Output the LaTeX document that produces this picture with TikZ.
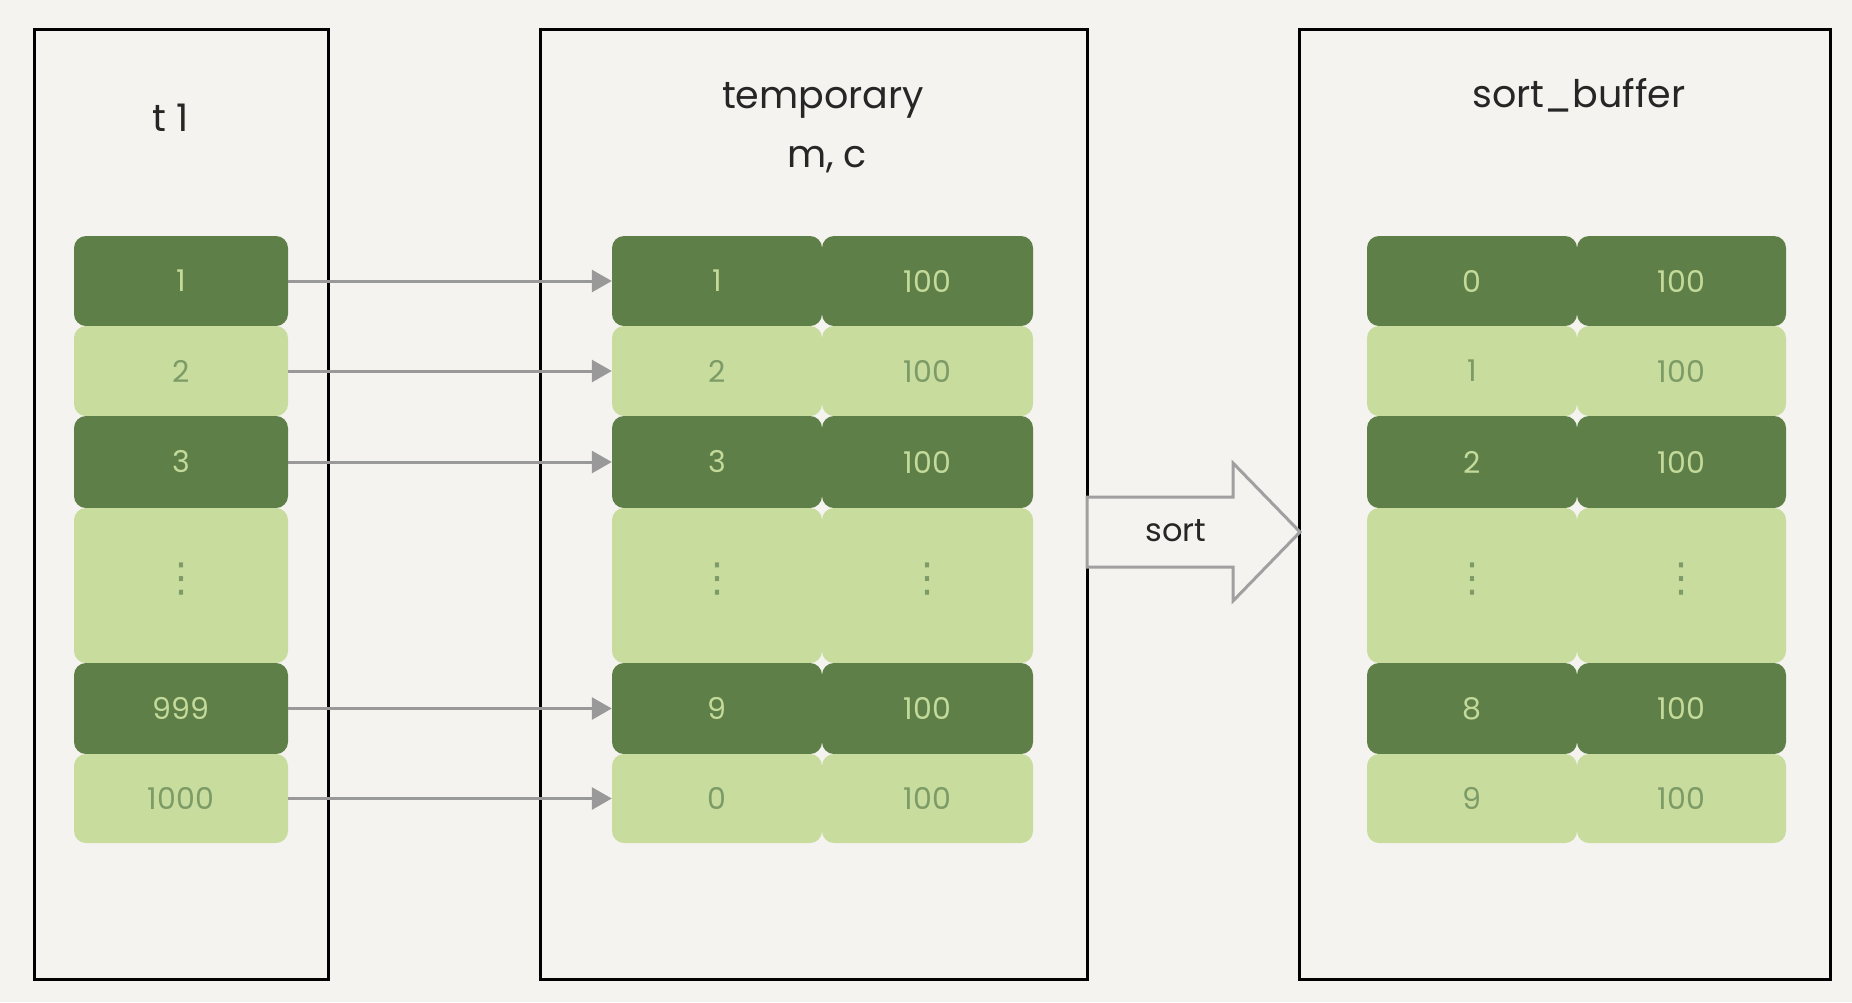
\documentclass[tikz,border=0pt]{standalone}
\usepackage{fontspec}
\setmainfont{Poppins}
\newfontfamily\dotsfont{DejaVu Sans}
\usetikzlibrary{arrows.meta}
\definecolor{bg}{HTML}{F4F3EF}
\definecolor{dk}{HTML}{5E7F47}
\definecolor{lt}{HTML}{C8DC9E}
\definecolor{dktxt}{HTML}{C3DA9A}
\definecolor{lttxt}{HTML}{7D9B66}
\definecolor{conncol}{HTML}{999999}
\definecolor{sortcol}{HTML}{A0A0A0}
\newcommand{\vdt}{{\dotsfont\fontsize{40}{44}\selectfont ⋮}}
\begin{document}
\begin{tikzpicture}[x=1pt,y=-1pt,
  frame/.style={draw=black,line width=3pt},
  cellbase/.style={rectangle,rounded corners=12pt,inner sep=0pt,font=\fontsize{30}{36}\selectfont},
  dcell/.style={cellbase,fill=dk,text=dktxt},
  lcell/.style={cellbase,fill=lt,text=lttxt},
  title/.style={inner sep=0pt,text=black!85,font=\fontsize{38}{44}\selectfont},
  conn/.style={draw=conncol,line width=3pt,-{Triangle[length=20pt,width=22pt]}},
  sortarrow/.style={draw=sortcol,line width=3pt,fill=bg,line join=miter},
  dotlbl/.style={inner sep=0pt,text=lttxt}
]
\useasboundingbox (0,0) rectangle (1852,1002);
\fill[bg] (0,0) rectangle (1852,1002);

% frames
\draw[frame] (34,29) rectangle (328,979);
\draw[frame] (540,29) rectangle (1087,979);
\draw[frame] (1299,29) rectangle (1830,979);

% titles
\node[title] (tt1) at (171,118) {t 1};
\node[title] (ttmp) at (823,100) {temporary};
\node[title] (ttmc) at (827,160) {m, c};
\node[title] (ttsb) at (1579,95) {sort\_buffer};

% t1 column
\node[dcell,minimum width=214pt,minimum height=90pt] (a1) at (181,281) {1};
\node[lcell,minimum width=214pt,minimum height=90pt] (a2) at (181,371) {2};
\node[dcell,minimum width=214pt,minimum height=92pt] (a3) at (181,462) {3};
\node[lcell,minimum width=214pt,minimum height=155pt] (a4) at (181,585.5) {};
\node[dcell,minimum width=214pt,minimum height=91pt] (a5) at (181,708.5) {999};
\node[lcell,minimum width=214pt,minimum height=89pt] (a6) at (181,798.5) {1000};

% temporary column 1
\node[dcell,minimum width=210pt,minimum height=90pt] (b1) at (717,281) {1};
\node[lcell,minimum width=210pt,minimum height=90pt] (b2) at (717,371) {2};
\node[dcell,minimum width=210pt,minimum height=92pt] (b3) at (717,462) {3};
\node[lcell,minimum width=210pt,minimum height=155pt] (b4) at (717,585.5) {};
\node[dcell,minimum width=210pt,minimum height=91pt] (b5) at (717,708.5) {9};
\node[lcell,minimum width=210pt,minimum height=89pt] (b6) at (717,798.5) {0};
% temporary column 2
\node[dcell,minimum width=211pt,minimum height=90pt] (c1) at (927.5,281) {100};
\node[lcell,minimum width=211pt,minimum height=90pt] (c2) at (927.5,371) {100};
\node[dcell,minimum width=211pt,minimum height=92pt] (c3) at (927.5,462) {100};
\node[lcell,minimum width=211pt,minimum height=155pt] (c4) at (927.5,585.5) {};
\node[dcell,minimum width=211pt,minimum height=91pt] (c5) at (927.5,708.5) {100};
\node[lcell,minimum width=211pt,minimum height=89pt] (c6) at (927.5,798.5) {100};

% sort_buffer column 1
\node[dcell,minimum width=210pt,minimum height=90pt] (d1) at (1472,281) {0};
\node[lcell,minimum width=210pt,minimum height=90pt] (d2) at (1472,371) {1};
\node[dcell,minimum width=210pt,minimum height=92pt] (d3) at (1472,462) {2};
\node[lcell,minimum width=210pt,minimum height=155pt] (d4) at (1472,585.5) {};
\node[dcell,minimum width=210pt,minimum height=91pt] (d5) at (1472,708.5) {8};
\node[lcell,minimum width=210pt,minimum height=89pt] (d6) at (1472,798.5) {9};
% sort_buffer column 2
\node[dcell,minimum width=209pt,minimum height=90pt] (e1) at (1681.5,281) {100};
\node[lcell,minimum width=209pt,minimum height=90pt] (e2) at (1681.5,371) {100};
\node[dcell,minimum width=209pt,minimum height=92pt] (e3) at (1681.5,462) {100};
\node[lcell,minimum width=209pt,minimum height=155pt] (e4) at (1681.5,585.5) {};
\node[dcell,minimum width=209pt,minimum height=91pt] (e5) at (1681.5,708.5) {100};
\node[lcell,minimum width=209pt,minimum height=89pt] (e6) at (1681.5,798.5) {100};

% vertical ellipses
\node[dotlbl] (a4d) at ([yshift=6pt]a4.center) {\vdt};
\node[dotlbl] (b4d) at ([yshift=6pt]b4.center) {\vdt};
\node[dotlbl] (c4d) at ([yshift=6pt]c4.center) {\vdt};
\node[dotlbl] (d4d) at ([yshift=6pt]d4.center) {\vdt};
\node[dotlbl] (e4d) at ([yshift=6pt]e4.center) {\vdt};

% connectors
\draw[conn] (a1.east) -- (b1.west);
\draw[conn] (a2.east) -- (b2.west);
\draw[conn] (a3.east) -- (b3.west);
\draw[conn] (a5.east) -- (b5.west);
\draw[conn] (a6.east) -- (b6.west);

% sort block arrow
\draw[sortarrow] (1087,497) -- (1233,497) -- (1233,463) -- (1300,532) -- (1233,601) -- (1233,567) -- (1087,567) -- cycle;
\node[inner sep=0pt,text=black!85,font=\fontsize{32}{38}\selectfont] (srt) at (1176,531) {sort};
\end{tikzpicture}
\end{document}
